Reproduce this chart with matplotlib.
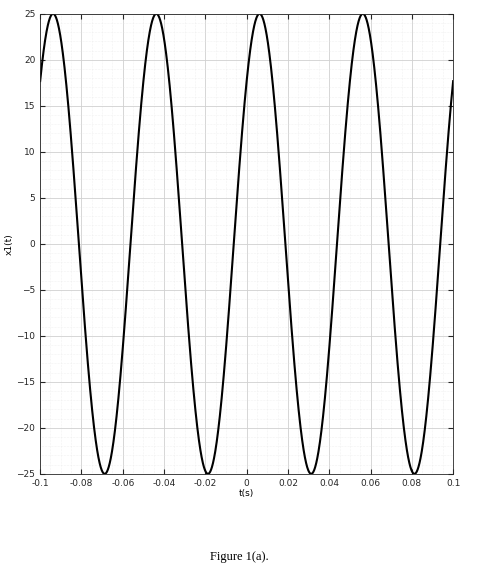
import matplotlib
matplotlib.use('Agg')
import matplotlib.pyplot as plt
import numpy as np

# signal x1(t) = A cos(2*pi*f*t - phase)
amplitude = 25.0
freq_hz = 20.0
phase_rad = np.pi / 4
t_range = [-0.1, 0.1]

x_ticks = [-0.1, -0.08, -0.06, -0.04, -0.02, 0, 0.02, 0.04, 0.06, 0.08, 0.1]
x_labels = ['-0.1', '-0.08', '-0.06', '-0.04', '-0.02', '0', '0.02', '0.04', '0.06', '0.08', '0.1']
y_ticks = [-25, -20, -15, -10, -5, 0, 5, 10, 15, 20, 25]

t = np.linspace(t_range[0], t_range[1], 2001)
x1 = amplitude * np.cos(2 * np.pi * freq_hz * t - phase_rad)

fig = plt.figure(figsize=(4.78, 5.73), dpi=100)
ax = fig.add_axes([0.084, 0.173, 0.864, 0.803])
ax.plot(t, x1, color='k', linewidth=1.5)

ax.set_xlim(t_range)
ax.set_ylim(-25, 25)
ax.set_xticks(x_ticks)
ax.set_xticklabels(x_labels)
ax.set_yticks(y_ticks)
ax.set_xticks(np.arange(-0.1, 0.1001, 0.005), minor=True)
ax.set_yticks(np.arange(-25, 25.01, 1), minor=True)
ax.grid(which='major', color='#d0d0d0', linewidth=0.6)
ax.grid(which='minor', color='#e6e6e6', linewidth=0.4, linestyle=':')
ax.tick_params(which='both', direction='in', top=True, right=True, labelsize=6.5, colors='#262626')
ax.tick_params(which='minor', length=0)
for s in ax.spines.values():
    s.set_color('#262626')
    s.set_linewidth(0.6)
ax.set_xlabel('t(s)', fontsize=6.5, labelpad=1)
ax.set_ylabel('x1(t)', fontsize=6.5, labelpad=2)

fig.text(0.5, 0.022, 'Figure 1(a).', ha='center', fontsize=9, family='Liberation Serif')
fig.savefig('out.png', dpi=100)
